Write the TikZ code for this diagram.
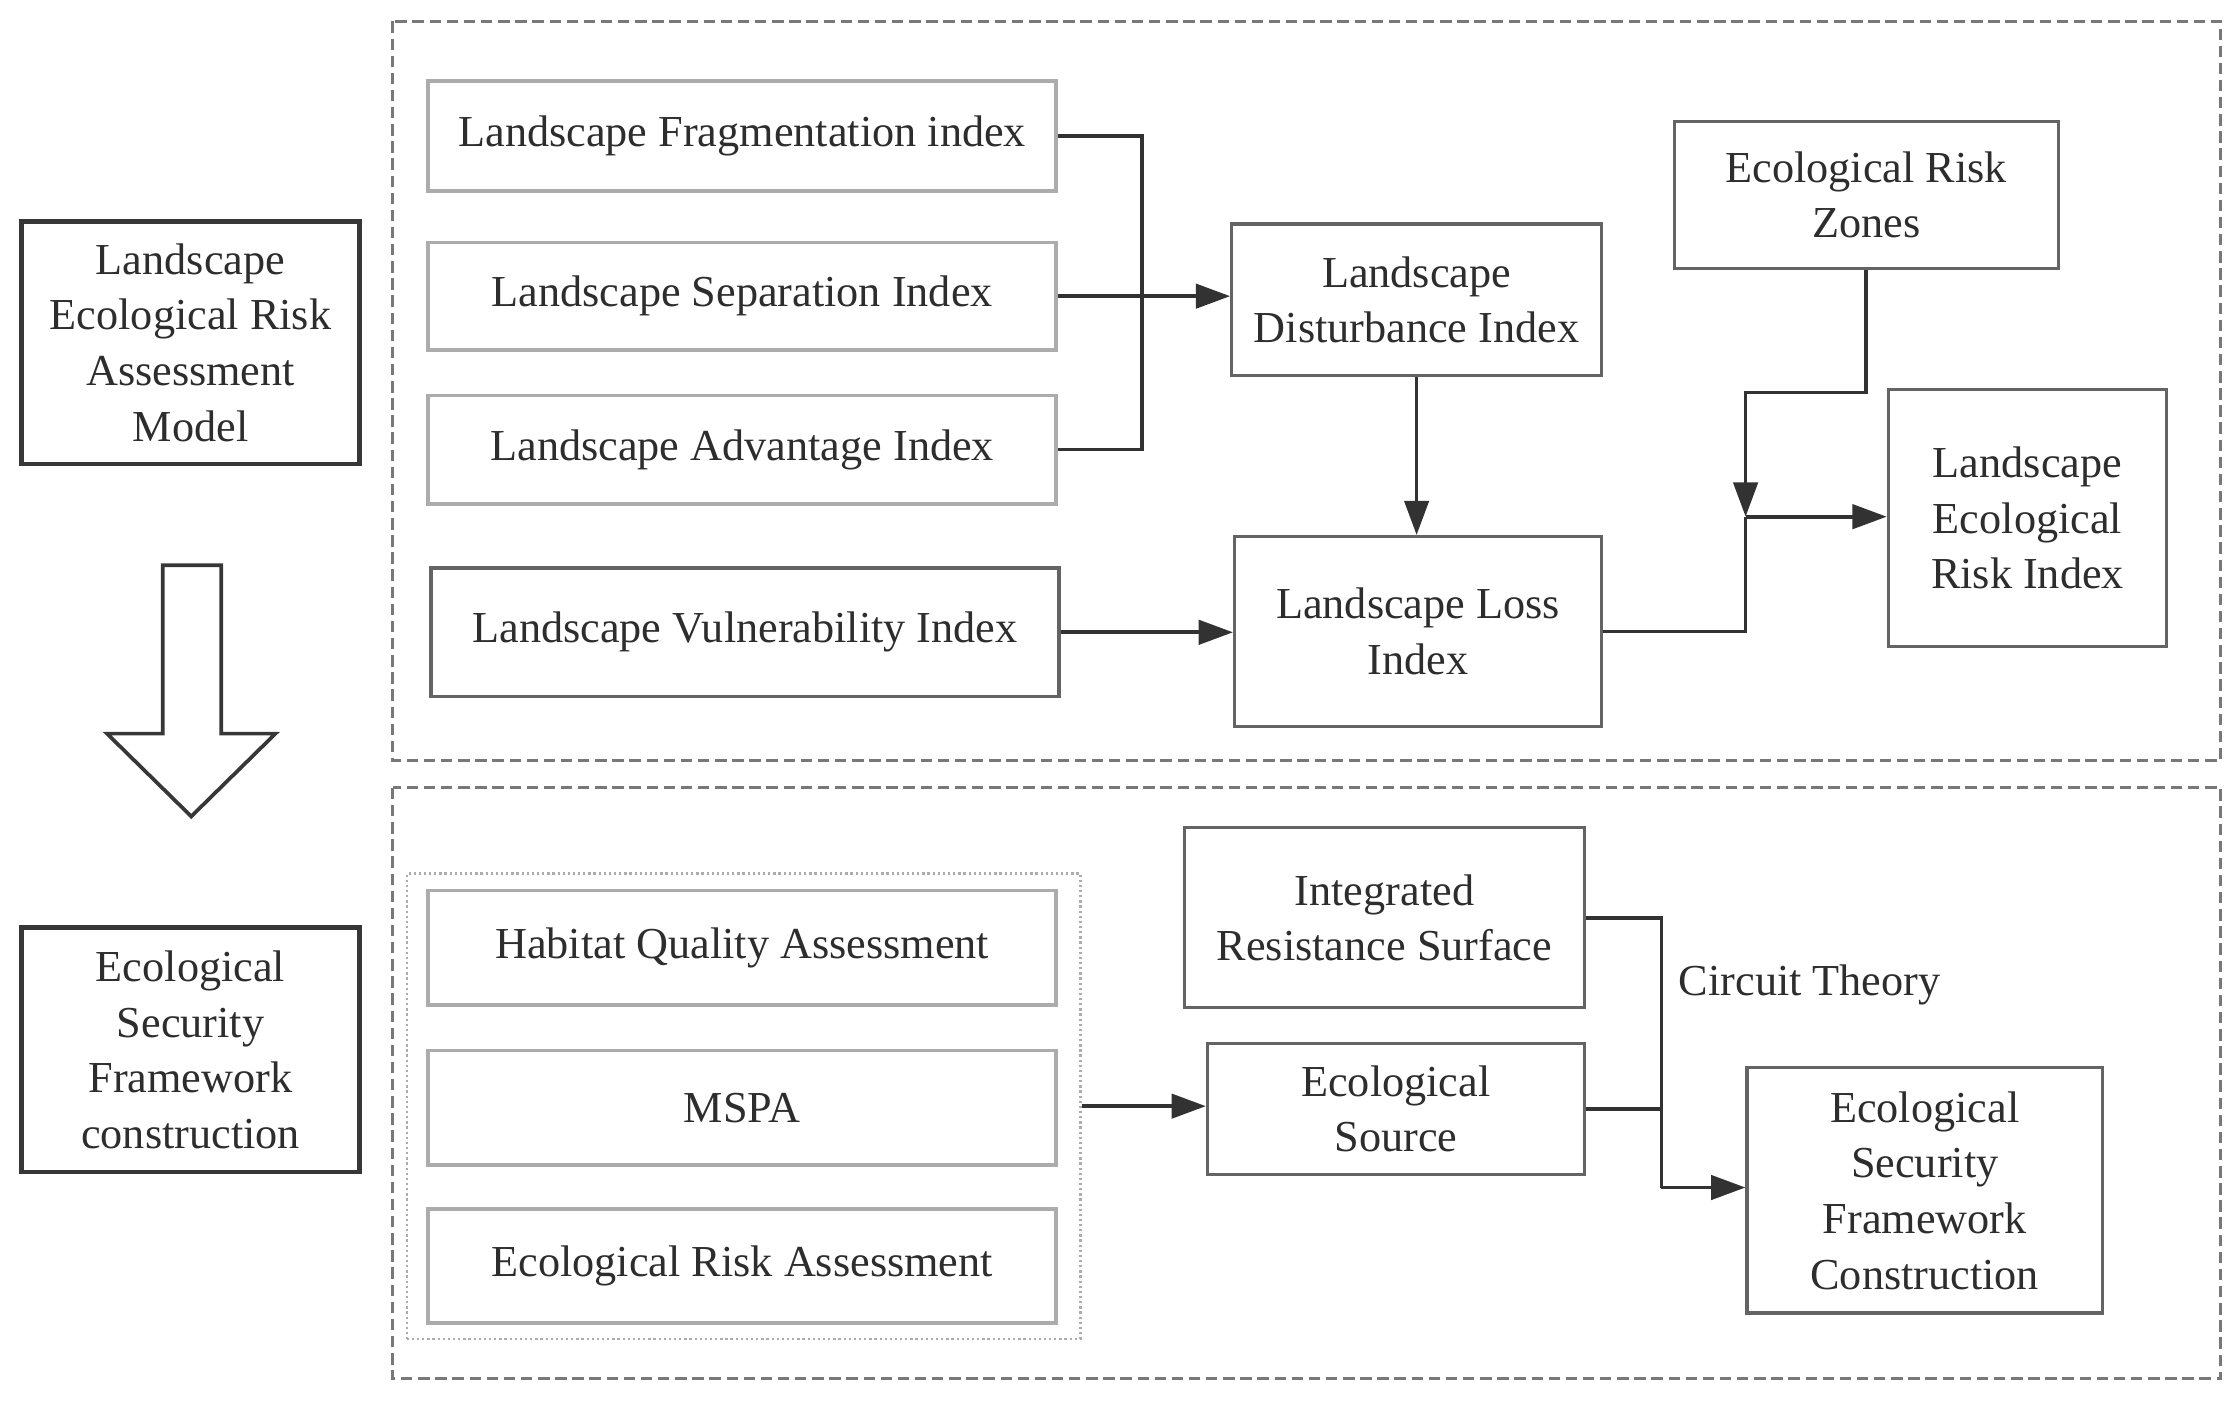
\documentclass[tikz,border=0pt]{standalone}
\usepackage{fontspec}
\setmainfont{Liberation Serif}
\usetikzlibrary{arrows.meta,calc}
\definecolor{txt}{RGB}{45,45,45}
\definecolor{lightgr}{RGB}{172,172,172}
\definecolor{midgr}{RGB}{100,100,100}
\definecolor{darkgr}{RGB}{55,55,55}
\definecolor{dashgr}{RGB}{120,120,120}
\definecolor{conncol}{RGB}{50,50,50}
\tikzset{
  base/.style={rectangle, inner sep=0pt, align=center, text=txt,
    font=\fontsize{31}{39}\selectfont},
  lightbox/.style={base, draw=lightgr, line width=2.6pt},
  midbox/.style={base, draw=midgr, line width=2.3pt},
  darkbox/.style={base, draw=darkgr, line width=3.2pt},
  outerbox/.style={draw=dashgr, line width=2pt, dash pattern=on 8pt off 4pt},
  groupbox/.style={rectangle, inner sep=0pt, draw=lightgr, line width=1.6pt, dotted},
  conn/.style={draw=conncol, line width=2.6pt},
  arr/.style={conn, -{Triangle[length=24pt,width=17pt]}},
}
\begin{document}
\begin{tikzpicture}[x=1pt,y=-1pt]
\useasboundingbox (0,0) rectangle (1568,987);

% outer dashed frames
\draw[outerbox] (275,15) rectangle (1556,533);
\draw[outerbox] (275,552) rectangle (1556,966);

% left boxes
\node[darkbox, minimum width=237pt, minimum height=170pt] (leram) at (133.5,240)
  {Landscape\\Ecological Risk\\Assessment\\Model};
\node[darkbox, minimum width=237pt, minimum height=171pt] (esfc) at (133.5,735.5)
  {Ecological\\Security\\Framework\\construction};

% hollow down arrow
\draw[draw=darkgr, line width=2.6pt, line join=miter]
  (114,396) -- (155,396) -- (155,514) -- (193,514) -- (134,572) -- (75,514) -- (114,514) -- cycle;

% top section
\node[lightbox, minimum width=440pt, minimum height=77pt] (frag) at (520,95.5)
  {Landscape Fragmentation index};
\node[lightbox, minimum width=440pt, minimum height=75pt] (sep) at (520,207.5)
  {Landscape Separation Index};
\node[lightbox, minimum width=440pt, minimum height=76pt] (adv) at (520,315)
  {Landscape Advantage Index};
\node[midbox, minimum width=440pt, minimum height=90pt] (vuln) at (522,443)
  {Landscape Vulnerability Index};
\node[midbox, minimum width=259pt, minimum height=106pt] (dist) at (992.5,210)
  {Landscape\\Disturbance Index};
\node[midbox, minimum width=257pt, minimum height=133pt] (loss) at (993.5,442.5)
  {Landscape Loss\\Index};
\node[midbox, minimum width=269pt, minimum height=103pt] (zones) at (1307.5,136.5)
  {Ecological Risk\\Zones};
\node[midbox, minimum width=195pt, minimum height=180pt] (leri) at (1420.5,363)
  {Landscape\\Ecological\\Risk Index};

\coordinate (jA) at (800,208);
\draw[conn] (frag.east) -| (jA) |- (adv.east);
\draw[arr] (sep.east) -- (sep.east -| dist.west);
\draw[arr] (dist.south) -- (dist.south |- loss.north);
\draw[arr] (vuln.east) -- (vuln.east -| loss.west);
\coordinate (jB) at (1223,362);
\coordinate (jC) at (1223,275);
\draw[conn] (loss.east) -| (jB);
\draw[arr] (zones.south) |- (jC) -- (jB);
\draw[arr] (jB) -- (jB -| leri.west);

% bottom section
\node[groupbox, minimum width=472pt, minimum height=326pt] (group) at (521,775) {};
\node[lightbox, minimum width=440pt, minimum height=80pt] (hab) at (520,664)
  {Habitat Quality Assessment};
\node[lightbox, minimum width=440pt, minimum height=80pt] (mspa) at (520,776)
  {MSPA};
\node[lightbox, minimum width=440pt, minimum height=80pt] (era) at (520,887)
  {Ecological Risk Assessment};
\node[midbox, minimum width=280pt, minimum height=126pt] (irs) at (970,643)
  {Integrated\\Resistance Surface};
\node[midbox, minimum width=264pt, minimum height=92pt] (src) at (978,777)
  {Ecological\\Source};
\node[midbox, minimum width=249pt, minimum height=172pt] (esf) at (1348.5,834)
  {Ecological\\Security\\Framework\\Construction};
\node[base, anchor=west] (ct) at (1176,690) {Circuit Theory};

\draw[arr] (group.east) -- (group.east -| src.west);
\coordinate (jD) at (1164,832);
\draw[conn] (irs.east) -| (jD);
\draw[conn] (src.east) -- (src.east -| jD);
\draw[arr] (jD) -- (jD -| esf.west);
\end{tikzpicture}
\end{document}
